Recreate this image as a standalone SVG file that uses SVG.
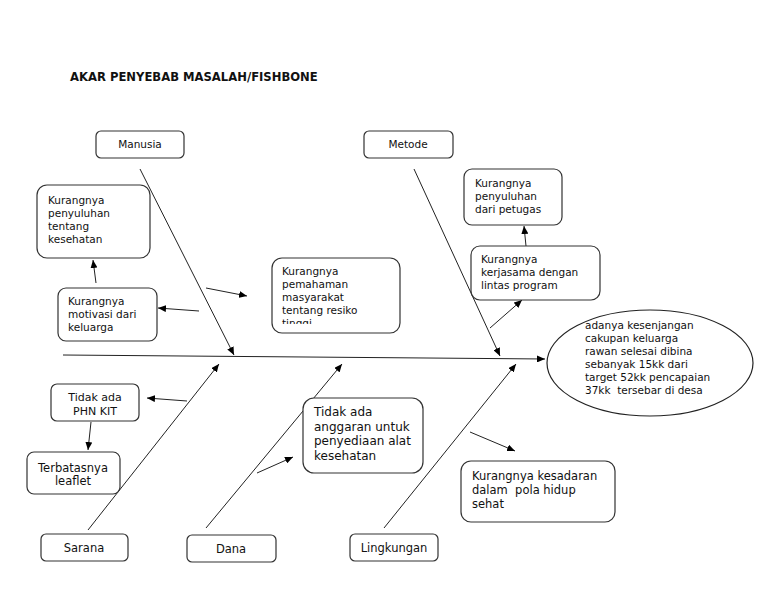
<svg xmlns="http://www.w3.org/2000/svg" width="768" height="594" viewBox="0 0 768 594">
<defs>
<marker id="ah" markerUnits="userSpaceOnUse" markerWidth="8" markerHeight="7" refX="8" refY="3.5" orient="auto">
<path d="M0,0 L8,3.5 L0,7 z" fill="#000"/>
</marker>
<clipPath id="clipPem"><rect x="272" y="258" width="128" height="66"/></clipPath>
</defs>
<style>
.bx{fill:#fff;stroke:#333;stroke-width:1.2}
.t{font-family:"DejaVu Sans","Liberation Sans",sans-serif;fill:#111}
.s105{font-size:10.5px}
.s115{font-size:11.5px}
.s12{font-size:12px}
.ln{stroke:#222;stroke-width:1;fill:none}
.ar{stroke:#222;stroke-width:1;fill:none;marker-end:url(#ah)}
</style>
<rect width="768" height="594" fill="#fff"/>
<text class="t" x="70" y="81" font-size="11.6" font-weight="bold">AKAR PENYEBAB MASALAH/FISHBONE</text>

<g id="connectors">
<line class="ar" x1="63" y1="355" x2="545" y2="359"/>
<line class="ar" x1="140" y1="169" x2="234" y2="355"/>
<line class="ar" x1="414" y1="169" x2="500" y2="356"/>
<line class="ar" x1="88" y1="530" x2="219" y2="364"/>
<line class="ar" x1="206" y1="528" x2="342" y2="364"/>
<line class="ar" x1="384" y1="528" x2="516" y2="364"/>
<line class="ar" x1="96" y1="283" x2="93" y2="260"/>
<line class="ar" x1="199" y1="311" x2="158" y2="308"/>
<line class="ar" x1="206" y1="288" x2="247" y2="296"/>
<line class="ar" x1="526" y1="246" x2="524" y2="226"/>
<line class="ar" x1="490" y1="328" x2="522" y2="300"/>
<line class="ar" x1="91" y1="422" x2="88" y2="450"/>
<line class="ar" x1="187" y1="401" x2="147" y2="398"/>
<line class="ar" x1="257" y1="473" x2="293" y2="457"/>
<line class="ar" x1="470" y1="432" x2="515" y2="451"/>
</g>

<g id="manusia">
<rect class="bx" x="96" y="131" width="88" height="27" rx="5"/>
<text class="t s105" x="140" y="148" text-anchor="middle">Manusia</text>
</g>
<g id="metode">
<rect class="bx" x="364" y="131" width="89" height="27" rx="5"/>
<text class="t s105" x="408" y="148" text-anchor="middle">Metode</text>
</g>
<g id="penyuluhan-kesehatan">
<rect class="bx" x="37" y="185" width="113" height="73" rx="10"/>
<text class="t s105" x="48" y="204">Kurangnya</text>
<text class="t s105" x="48" y="217">penyuluhan</text>
<text class="t s105" x="48" y="230">tentang</text>
<text class="t s105" x="48" y="243">kesehatan</text>
</g>
<g id="motivasi">
<rect class="bx" x="58" y="288" width="99" height="53" rx="8"/>
<text class="t s105" x="68" y="305">Kurangnya</text>
<text class="t s105" x="68" y="318">motivasi dari</text>
<text class="t s105" x="68" y="331">keluarga</text>
</g>
<g id="pemahaman">
<rect class="bx" x="272" y="258" width="128" height="75" rx="10"/>
<g clip-path="url(#clipPem)">
<text class="t s105" x="282" y="275">Kurangnya</text>
<text class="t s105" x="282" y="288">pemahaman</text>
<text class="t s105" x="282" y="301">masyarakat</text>
<text class="t s105" x="282" y="314">tentang resiko</text>
<text class="t s105" x="282" y="327">tinggi</text>
</g>
</g>
<g id="penyuluhan-petugas">
<rect class="bx" x="464" y="169" width="98" height="56" rx="8"/>
<text class="t s105" x="475" y="187">Kurangnya</text>
<text class="t s105" x="475" y="200">penyuluhan</text>
<text class="t s105" x="475" y="213">dari petugas</text>
</g>
<g id="kerjasama">
<rect class="bx" x="471" y="246" width="129" height="54" rx="9"/>
<text class="t s105" x="481" y="263">Kurangnya</text>
<text class="t s105" x="481" y="276">kerjasama dengan</text>
<text class="t s105" x="481" y="289">lintas program</text>
</g>
<g id="masalah">
<ellipse cx="650" cy="363" rx="103" ry="53" fill="#fff" stroke="#222" stroke-width="1.2"/>
<text class="t s105" x="585" y="329">adanya kesenjangan</text>
<text class="t s105" x="585" y="342">cakupan keluarga</text>
<text class="t s105" x="585" y="355">rawan selesai dibina</text>
<text class="t s105" x="585" y="368">sebanyak 15kk dari</text>
<text class="t s105" x="585" y="381">target 52kk pencapaian</text>
<text class="t s105" x="585" y="394" xml:space="preserve">37kk  tersebar di desa</text>
</g>
<g id="phn-kit">
<rect class="bx" x="51" y="384" width="88" height="37" rx="6"/>
<text class="t" font-size="11" x="95" y="401" text-anchor="middle">Tidak ada</text>
<text class="t" font-size="11" x="95" y="415" text-anchor="middle">PHN KIT</text>
</g>
<g id="leaflet">
<rect class="bx" x="27" y="452" width="93" height="42" rx="7"/>
<text class="t s115" x="73" y="472" text-anchor="middle">Terbatasnya</text>
<text class="t s115" x="73" y="485" text-anchor="middle">leaflet</text>
</g>
<g id="anggaran">
<rect class="bx" x="303" y="398" width="120" height="75" rx="11"/>
<text class="t s12" x="314" y="416">Tidak ada</text>
<text class="t s12" x="314" y="431">anggaran untuk</text>
<text class="t s12" x="314" y="445">penyediaan alat</text>
<text class="t s12" x="314" y="460">kesehatan</text>
</g>
<g id="kesadaran">
<rect class="bx" x="461" y="461" width="154" height="61" rx="10"/>
<text class="t s115" x="472" y="480">Kurangnya kesadaran</text>
<text class="t s115" x="472" y="494" xml:space="preserve">dalam  pola hidup</text>
<text class="t s115" x="472" y="508">sehat</text>
</g>
<g id="sarana">
<rect class="bx" x="41" y="534" width="87" height="27" rx="5"/>
<text class="t s115" x="84" y="552" text-anchor="middle">Sarana</text>
</g>
<g id="dana">
<rect class="bx" x="187" y="535" width="89" height="27" rx="5"/>
<text class="t s115" x="231" y="553" text-anchor="middle">Dana</text>
</g>
<g id="lingkungan">
<rect class="bx" x="350" y="534" width="88" height="27" rx="5"/>
<text class="t s115" x="394" y="552" text-anchor="middle">Lingkungan</text>
</g>
</svg>
